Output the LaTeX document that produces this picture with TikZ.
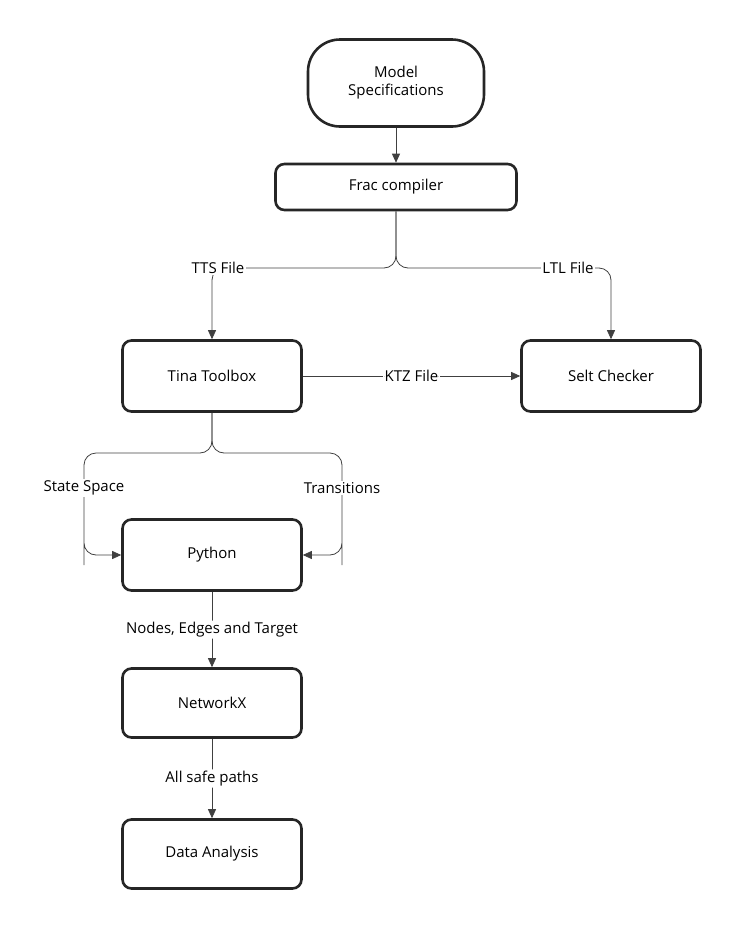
\documentclass[tikz,border=0pt]{standalone}
\usepackage{fontspec}
\setmainfont{Open Sans}
\usetikzlibrary{arrows.meta}
\begin{document}
\begin{tikzpicture}[x=1pt,y=-1pt,
  box/.style={draw=black!85,line width=2.6pt,rounded corners=9pt,minimum width=179pt,minimum height=71pt,font=\fontsize{15}{18}\selectfont,align=center,inner sep=0pt},
  conn/.style={draw=black!75,line width=0.8pt,rounded corners=12pt},
  arr/.style={conn,-{Triangle[length=9pt,width=8pt]}},
  lab/.style={fill=white,font=\fontsize{15}{18}\selectfont,inner sep=1.5pt}]
\useasboundingbox (0,0) rectangle (741,932);
\node[box,rounded corners=32pt,minimum width=176pt,minimum height=87pt] (ms) at (396,83) {Model\\Specifications};
\node[box,minimum width=241pt,minimum height=46pt] (fc) at (396,187) {Frac compiler};
\node[box] (tt) at (212,376) {Tina Toolbox};
\node[box] (sc) at (611,376) {Selt Checker};
\node[box] (py) at (212,555) {Python};
\node[box,minimum height=69pt] (nx) at (212,703) {NetworkX};
\node[box,minimum height=69pt] (da) at (212,854) {Data Analysis};
\coordinate (s1) at (396,268);
\coordinate (s2) at (212,453);
\draw[arr] (ms) -- (fc);
\draw[arr] (fc.south) -- (s1) -| (tt.north);
\draw[arr] (fc.south) -- (s1) -| (sc.north);
\node[lab] at (218,268) {TTS File};
\node[lab] at (568,268) {LTL File};
\draw[arr] (tt) -- node[lab]{KTZ File} (sc);
\draw[arr] (tt.south) -- (s2) -| (84,553) |- (py.west);
\draw[arr] (tt.south) -- (s2) -| (342,553) |- (py.east);
\node[lab] at (84,488) {State Space};
\node[lab] at (342,488) {Transitions};
\draw[arr] (py) -- node[lab]{Nodes, Edges and Target} (nx);
\draw[arr] (nx) -- node[lab]{All safe paths} (da);
\end{tikzpicture}
\end{document}
